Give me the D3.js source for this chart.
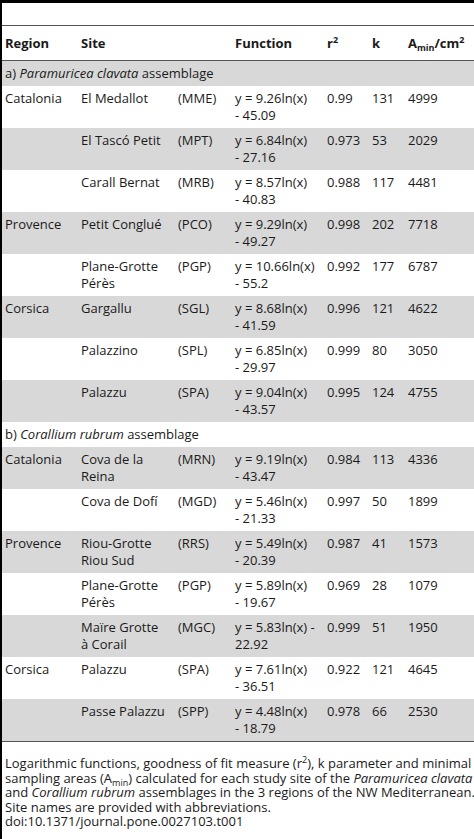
<!DOCTYPE html>
<html><head><meta charset="utf-8">
<script src="https://cdn.jsdelivr.net/npm/d3@7"></script>
<style>body{margin:0;background:#fff}svg{display:block}text{font-family:"Open Sans",sans-serif;font-size:13px;fill:#1a1a1a}</style>
</head><body>
<script>
const headers = ["Region","Site","","Function","r²","k","Amin/cm²"];
const sectionA = "Paramuricea clavata";
const sectionB = "Corallium rubrum";
const regions = ["Catalonia","","","Provence","","Corsica","","","Catalonia","","Provence","","","Corsica",""];
const sites = [["El Medallot"],["El Tascó Petit"],["Carall Bernat"],["Petit Conglué"],["Plane-Grotte","Pérès"],["Gargallu"],["Palazzino"],["Palazzu"],
  ["Cova de la","Reina"],["Cova de Dofí"],["Riou-Grotte","Riou Sud"],["Plane-Grotte","Pérès"],["Maïre Grotte","à Corail"],["Palazzu"],["Passe Palazzu"]];
const abbrs = ["MME","MPT","MRB","PCO","PGP","SGL","SPL","SPA","MRN","MGD","RRS","PGP","MGC","SPA","SPP"];
const slopes = [9.26,6.84,8.57,9.29,10.66,8.68,6.85,9.04,9.19,5.46,5.49,5.89,5.83,7.61,4.48];
const intercepts = ["45.09","27.16","40.83","49.27","55.2","41.59","29.97","43.57","43.47","21.33","20.39","19.67","22.92","36.51","18.79"];
const r2 = ["0.99","0.973","0.988","0.998","0.992","0.996","0.999","0.995","0.984","0.997","0.987","0.969","0.999","0.922","0.978"];
const kvals = [131,53,117,202,177,121,80,124,113,50,41,28,51,121,66];
const amin = [4999,2029,4481,7718,6787,4622,3050,4755,4336,1899,1573,1079,1950,4645,2530];
const caption = [
 [["Logarithmic functions, goodness of fit measure (r",0],["2",2],["), k parameter and minimal",0]],
 [["sampling areas (A",0],["min",1],[") calculated for each study site of the ",0],["Paramuricea clavata",3]],
 [["and ",0],["Corallium rubrum",3],[" assemblages in the 3 regions of the NW Mediterranean.",0]],
 [["Site names are provided with abbreviations.",0]],
 [["doi:10.1371/journal.pone.0027103.t001",0]]];

const W=474,H=839, gray="#d8d8d8";
const svg=d3.select("body").append("svg").attr("width",W).attr("height",H);
svg.append("rect").attr("width",W).attr("height",3).attr("fill","#000");
svg.append("rect").attr("width",2).attr("height",H).attr("fill","#000");
const cols=[5,81,178,235,327,372,408];
const x=d3.scaleOrdinal().domain(d3.range(7)).range(cols);

const rows=[];
rows.push({type:"sec",label:"a) ",it:sectionA,h:25});
for(let i=0;i<15;i++){
  if(i===8) rows.push({type:"sec",label:"b) ",it:sectionB,h:25});
  rows.push({type:"data",i,h:42});
}
let y0=61; rows.forEach((r,j)=>{r.y=y0;y0+=r.h;r.gray=(j%2===0);});

[25.5,60.5,y0+0.5].forEach(yy=>svg.append("line").attr("x1",2).attr("x2",W).attr("y1",yy).attr("y2",yy).attr("stroke","#555"));

const hg=svg.append("g");
headers.forEach((h,i)=>{
  if(!h) return;
  const t=hg.append("text").attr("x",x(i)).attr("y",48).style("font-weight","bold");
  if(i===4){t.text("r");t.append("tspan").attr("dy",-5).style("font-size","9px").text("2");}
  else if(i===6){t.text("A");t.append("tspan").attr("dy",3).style("font-size","9px").text("min");t.append("tspan").attr("dy",-3).text("/cm");t.append("tspan").attr("dy",-5).style("font-size","9px").text("2");}
  else t.text(h);
});

const g=svg.selectAll("g.row").data(rows).join("g").attr("transform",d=>`translate(0,${d.y})`);
g.append("rect").attr("x",2).attr("width",W-2).attr("height",d=>d.h).attr("fill",d=>d.gray?gray:"#fff");
g.filter(d=>d.type==="sec").append("text").attr("x",5).attr("y",17)
 .each(function(d){const t=d3.select(this);t.append("tspan").text(d.label);t.append("tspan").style("font-style","italic").text(d.it);t.append("tspan").text(" assemblage");});
const dg=g.filter(d=>d.type==="data");
const ln=(j)=>17+j*17;
dg.append("text").attr("x",x(0)).attr("y",ln(0)).text(d=>regions[d.i]);
dg.each(function(d){const s=d3.select(this);sites[d.i].forEach((v,j)=>s.append("text").attr("x",x(1)).attr("y",ln(j)).text(v));});
dg.append("text").attr("x",x(2)).attr("y",ln(0)).text(d=>"("+abbrs[d.i]+")");
dg.each(function(d){const s=d3.select(this);
  if(abbrs[d.i]==="MGC"){s.append("text").attr("x",x(3)).attr("y",ln(0)).text(`y = ${slopes[d.i]}ln(x) -`);s.append("text").attr("x",x(3)).attr("y",ln(1)).text(intercepts[d.i]);}
  else{s.append("text").attr("x",x(3)).attr("y",ln(0)).text(`y = ${slopes[d.i]}ln(x)`);s.append("text").attr("x",x(3)).attr("y",ln(1)).text("- "+intercepts[d.i]);}
});
dg.append("text").attr("x",x(4)).attr("y",ln(0)).text(d=>r2[d.i]);
dg.append("text").attr("x",x(5)).attr("y",ln(0)).text(d=>kvals[d.i]);
dg.append("text").attr("x",x(6)).attr("y",ln(0)).text(d=>amin[d.i]);

caption.forEach((line,j)=>{
  const t=svg.append("text").attr("x",5).attr("y",768+j*14.5);
  line.forEach(([s,k],i)=>{
    const sp=t.append("tspan").text(s);
    if(k===3) sp.style("font-style","italic");
    if(k===2) sp.attr("dy",-5).style("font-size","9px");
    if(k===1) sp.attr("dy",3).style("font-size","9px");
    if(i>0&&line[i-1][1]===2&&k!==2) sp.attr("dy",5);
    if(i>0&&line[i-1][1]===1&&k!==1) sp.attr("dy",-3);
  });
});
</script>
</body></html>
